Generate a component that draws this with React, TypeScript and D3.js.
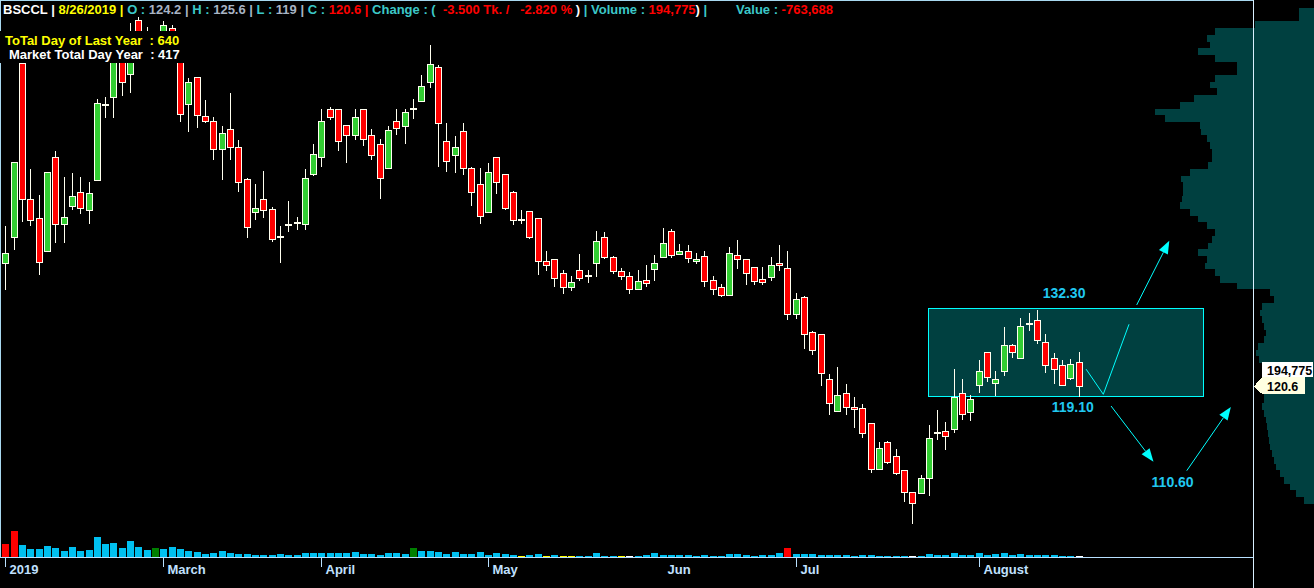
import React from 'react';
import * as d3 from 'd3';

// ---- Daily OHLC (BSCCL, Feb–Aug 2019) ----
const opens = [139.0,142.8,168.8,148.5,145.6,140.8,154.7,144.7,147.4,149.5,146.8,151.4,162.7,163.7,169.5,167.2,175.2,172.2,170.0,171.5,174.0,171.5,162.7,166.7,160.9,160.1,156.0,159.0,156.3,151.5,146.5,148.5,147.0,143.0,144.7,145.0,144.7,152.2,154.8,161.9,161.9,159.5,158.0,161.9,158.0,156.7,153.2,160.2,159.4,162.1,163.2,165.9,168.2,157.1,155.1,158.6,153.2,150.8,146.6,154.7,152.2,149.6,145.5,146.7,145.6,139.3,139.5,137.4,135.3,137.9,137.1,138.9,142.8,139.9,137.8,137.0,135.1,136.4,138.0,139.9,143.7,140.3,140.7,139.2,140.0,136.4,135.3,134.2,140.1,139.5,138.3,136.5,136.8,139.0,138.2,131.4,133.9,128.7,128.3,121.7,116.8,119.5,117.4,117.3,115.0,108.2,112.3,110.2,108.0,104.7,104.6,106.8,113.7,113.8,114.1,119.6,116.7,120.8,125.6,121.1,122.9,126.7,124.7,130.0,130.4,127.1,124.7,123.7,121.8,124.2];
const highs = [144.5,154.0,168.8,153.0,149.1,152.5,155.7,151.8,152.4,151.8,151.0,163.4,163.7,170.0,170.7,174.8,175.7,174.2,173.3,175.1,174.5,172.2,166.6,166.7,163.3,160.7,159.4,164.3,157.3,151.6,150.7,152.7,147.3,144.5,148.2,145.8,153.0,156.7,161.9,162.2,161.9,159.5,161.9,162.0,159.0,157.5,159.4,161.9,161.9,163.4,167.0,171.5,168.5,159.8,157.9,159.8,153.3,153.1,153.9,154.8,152.2,149.7,146.9,146.7,145.6,140.7,139.6,137.9,137.0,140.3,137.9,143.7,143.5,140.0,138.2,137.6,137.9,138.7,140.1,144.1,144.0,141.8,141.6,140.5,140.7,137.0,135.8,141.3,142.4,139.5,138.3,138.3,139.8,141.6,140.7,134.4,134.0,128.8,128.3,122.4,123.4,120.9,118.9,117.9,115.1,112.2,112.4,111.2,108.1,104.8,107.3,114.8,117.0,115.2,123.1,121.7,119.3,124.5,125.7,122.9,129.4,126.9,130.8,131.5,131.9,128.3,125.5,124.5,124.6,125.6];
const lows = [134.9,140.9,145.1,144.4,137.2,140.6,142.0,142.0,146.8,146.3,144.8,151.2,160.6,160.6,163.9,164.3,170.4,169.5,169.2,170.7,170.0,160.0,158.5,159.1,159.8,154.3,151.3,154.3,149.5,142.7,145.4,145.7,142.1,139.0,143.5,143.9,143.9,151.9,153.3,160.3,155.7,153.9,157.3,156.4,154.3,148.5,153.1,158.1,156.7,160.4,163.1,165.1,153.3,152.6,152.4,152.1,147.5,144.7,146.5,149.2,146.8,144.6,144.8,142.6,137.2,137.8,135.4,134.3,134.8,136.2,136.0,136.8,139.5,137.3,136.4,134.3,135.0,135.3,136.3,139.8,139.7,140.2,139.0,138.8,135.4,134.2,133.9,134.1,138.0,135.7,135.7,135.7,136.3,137.8,130.4,130.6,126.1,125.2,120.6,116.3,116.7,116.2,114.3,112.9,107.6,108.1,108.9,107.3,103.3,100.0,104.5,104.1,112.5,111.0,113.6,115.5,115.4,119.6,121.2,119.1,122.1,124.8,124.6,128.8,126.8,122.6,120.9,120.6,121.5,119.0];
const closes = [140.5,154.0,148.5,145.3,139.1,152.5,144.8,145.8,149.0,147.1,149.4,162.8,162.7,169.2,166.0,172.2,171.5,170.7,172.5,174.5,171.5,161.2,166.0,161.0,160.1,156.0,158.4,156.3,151.0,144.3,147.1,146.8,142.5,143.0,144.7,145.0,151.7,155.2,160.1,160.7,157.2,158.0,160.8,157.4,155.0,151.7,158.8,159.1,161.5,162.1,165.3,168.6,159.8,154.2,156.2,153.2,149.6,145.9,152.5,151.1,147.1,145.3,145.5,142.9,139.3,138.7,136.7,135.3,136.1,136.7,137.1,142.3,139.8,137.7,137.0,135.1,136.2,135.9,139.0,142.0,140.1,140.8,139.7,139.5,136.3,135.0,134.2,140.5,139.5,137.4,136.3,136.1,138.7,138.7,131.4,133.5,128.4,125.9,122.6,118.0,119.2,117.4,117.1,113.5,108.2,111.3,109.2,107.6,104.7,103.2,106.8,112.9,113.7,113.1,119.0,116.4,118.7,122.8,122.0,121.6,126.7,125.6,129.5,130.0,127.4,123.7,123.1,120.8,123.8,120.6];
// volume in thousand shares
const volumesK = [2500,5000,2300,1540,1540,2110,1730,1150,1920,1150,1340,3840,2500,2690,1730,3070,1920,1340,1730,1540,1920,1540,1150,960,580,770,1150,770,580,580,380,380,380,580,380,380,770,770,770,770,770,770,960,580,580,380,770,770,580,1730,1150,1150,960,580,960,580,580,960,380,770,580,380,190,380,580,190,380,190,190,190,190,770,190,190,190,190,190,380,770,380,380,380,380,190,380,190,190,580,580,380,190,380,380,770,1730,580,580,580,380,380,380,380,190,380,380,190,190,190,190,190,190,580,380,380,770,380,380,770,380,580,770,380,580,380,380,380,380,190,190,194.775];
const redVolIdx = [0, 1, 94];
const greenVolIdx = [18, 49];
const yellowVolIdx = [62, 65, 67, 68, 74];
const whiteVolIdx = [75, 109, 129];

// month labels (candle index of first session)
const monthLabels = ['2019', 'March', 'April', 'May', 'Jun', 'Jul', 'August'];
const monthIdx = [0, 19, 38, 58, 79, 95, 117];
const monthTickShown = [true, true, true, true, false, true, true];

// volume-at-price profile: bins of 1 Tk from 177 down
const profileTop = 177;
const profileStep = 1;
const profileVol = [15,15,59,99,107,104,116,99,77,77,99,104,97,120,134,159,149,114,113,107,104,102,102,106,124,133,131,131,132,134,124,116,107,99,102,106,116,107,109,99,94,77,44,40,52,54,52,50,48,50,56,58,55,52,50,50,50,50,50,52,50,48,47,46,45,44,42,40,38,34,30,24,18,10];

// annotation (index, price)
const zoneTop = 132.3;
const zoneBottom = 119.1;
const target = 110.6;
const zoneFromIdx = 110.9;
const zoneToIdx = 144.0;
const vPath: [number, number][] = [[129.9, 123.1], [131.97, 119.35], [135.06, 129.8]];
const arrows: [number, number][][] = [
  [[135.98, 132.68], [139.9, 142.27]],
  [[132.9, 117.6], [138.0, 109.3]],
  [[142.0, 107.95], [147.3, 117.45]],
];

const header: [string, string][] = [
  ['BSCCL | ', '#ffffff'], ['8/26/2019', '#ffff00'], [' | ', '#ffff00'],
  ['O : ', '#3cc8c8'], ['124.2', '#a8b4c4'], [' | ', '#a8b4c4'],
  ['H : ', '#3cc8c8'], ['125.6', '#a8b4c4'], [' | ', '#a8b4c4'],
  ['L : ', '#3cc8c8'], ['119', '#a8b4c4'], [' | ', '#a8b4c4'],
  ['C : ', '#3cc8c8'], ['120.6', '#ff0000'], [' | ', '#ff0000'],
  ['Change : (  ', '#3cc8c8'], ['-3.500 Tk. /   -2.820 % ', '#ff0000'], [')', '#ffffff'],
  [' | Volume : ', '#3cc8c8'], ['194,775', '#ff0000'], [')', '#ffffff'], [' |', '#3cc8c8'],
  ['        Value : ', '#3cc8c8'], ['-763,688', '#ff0000'],
];

const FONT = '"Liberation Sans", Arial, sans-serif';

function arrowHead(x1: number, y1: number, x2: number, y2: number, len = 13, half = 5) {
  const dx = x2 - x1, dy = y2 - y1;
  const d = Math.hypot(dx, dy);
  const ux = dx / d, uy = dy / d;
  const bx = x2 - ux * len, by = y2 - uy * len;
  return {
    path: `M${x2},${y2}L${bx - uy * half},${by + ux * half}L${bx + uy * half},${by - ux * half}Z`,
    bx, by,
  };
}

export default function App() {
  const W = 1314, H = 588;
  const plotRight = 1253;
  const axisY = 557;
  const x = d3.scaleLinear().domain([0, opens.length - 1]).range([5.3, 1078.6]);
  const y = d3.scaleLinear().domain([100, 170]).range([523.94, 54.94]);
  const yVol = d3.scaleLinear().domain([0, 5000]).range([axisY, axisY - 26]);
  const xProf = d3.scaleLinear().domain([0, 160]).range([W, W - 160]);

  const volColor = (i: number) => {
    if (redVolIdx.includes(i)) return '#ff0000';
    if (greenVolIdx.includes(i)) return '#008000';
    if (yellowVolIdx.includes(i)) return '#ffff00';
    if (whiteVolIdx.includes(i)) return '#ffffff';
    return '#00c0f0';
  };

  const cream = '#fffff0';
  const cyan = '#00ffff';
  const labelBlue = '#20c8f0';
  const lineGen = d3.line<[number, number]>().x(d => x(d[0])).y(d => y(d[1]));
  const last = closes.length - 1;
  const yLast = y(closes[last]);

  return (
    <div style={{ position: 'absolute', left: 0, top: 0, width: W, height: H, background: '#000' }}>
      <svg width={W} height={H} style={{ display: 'block' }} fontFamily={FONT}>
        <rect x={0} y={0} width={W} height={H} fill="#000" />

        {/* volume-at-price profile */}
        <g shapeRendering="crispEdges">
          {profileVol.map((v, k) => {
            const y0 = y(profileTop - k * profileStep);
            const y1 = y(profileTop - (k + 1) * profileStep);
            return <rect key={k} x={xProf(v)} y={y0} width={W - xProf(v)} height={y1 - y0} fill="#004040" />;
          })}
        </g>

        {/* frame */}
        <g shapeRendering="crispEdges">
          <line x1={0} x2={plotRight} y1={0.5} y2={0.5} stroke="#a8d8f0" />
          <line x1={0.5} x2={0.5} y1={0} y2={axisY} stroke="#a8d8f0" />
          <line x1={plotRight + 0.5} x2={plotRight + 0.5} y1={0} y2={H} stroke="#d8f0ff" />
        </g>

        {/* target zone */}
        <rect x={Math.round(x(zoneFromIdx)) + 0.5} y={Math.round(y(zoneTop)) + 0.5}
          width={Math.round(x(zoneToIdx) - x(zoneFromIdx))} height={Math.round(y(zoneBottom) - y(zoneTop))}
          fill="#004040" stroke={cyan} strokeWidth={1} shapeRendering="crispEdges" />
        <path d={lineGen(vPath) || ''} fill="none" stroke={cyan} strokeWidth={1} />

        {/* candles */}
        <g>
          {opens.map((o, i) => {
            const c = closes[i];
            const cx = Math.round(x(i)) + 0.5;
            const yH = y(highs[i]), yL = y(lows[i]);
            const yO = Math.round(y(o)) + 0.5, yC = Math.round(y(c)) + 0.5;
            const top = Math.min(yO, yC), bot = Math.max(yO, yC);
            const doji = o === c;
            return (
              <g key={i} shapeRendering="crispEdges">
                <line x1={cx} x2={cx} y1={yH} y2={yL} stroke={cream} strokeWidth={1} />
                {doji ? (
                  <line x1={cx - 3.5} x2={cx + 3.5} y1={yO} y2={yO} stroke={cream} strokeWidth={2} />
                ) : (
                  <rect x={cx - 3} y={top} width={6} height={Math.max(1, bot - top)}
                    fill={c > o ? '#32cd32' : '#ff0000'} stroke={cream} strokeWidth={1} />
                )}
              </g>
            );
          })}
        </g>

        {/* volume bars */}
        <g shapeRendering="crispEdges">
          {volumesK.map((v, i) => {
            const yy = Math.round(yVol(v));
            return <rect key={i} x={Math.round(x(i)) - 3} y={yy} width={7} height={axisY - yy} fill={volColor(i)} />;
          })}
        </g>

        {/* time axis */}
        <g shapeRendering="crispEdges">
          <line x1={0} x2={plotRight} y1={axisY + 0.5} y2={axisY + 0.5} stroke="#b8e0ff" />
          {monthLabels.map((m, j) => {
            const tx = Math.round(x(monthIdx[j])) + 0.5;
            return (
              <g key={m}>
                {monthTickShown[j] && <line x1={tx} x2={tx} y1={axisY} y2={axisY + 10} stroke="#b8e0ff" />}
                <text x={tx + 4} y={574} fill="#c0e0ff" fontSize={13} fontWeight="bold">{m}</text>
              </g>
            );
          })}
        </g>

        {/* arrows */}
        <g>
          {arrows.map((a, k) => {
            const x1 = x(a[0][0]), y1 = y(a[0][1]), x2 = x(a[1][0]), y2 = y(a[1][1]);
            const h = arrowHead(x1, y1, x2, y2);
            return (
              <g key={k}>
                <line x1={x1} y1={y1} x2={h.bx} y2={h.by} stroke={cyan} strokeWidth={1} />
                <path d={h.path} fill={cyan} />
              </g>
            );
          })}
        </g>

        {/* zone labels */}
        <g fill={labelBlue} fontSize={14} fontWeight="bold" textAnchor="middle">
          <text x={x(127.25)} y={y(zoneTop) - 10}>{zoneTop.toFixed(2)}</text>
          <text x={x(128.3)} y={y(zoneBottom) + 16}>{zoneBottom.toFixed(2)}</text>
          <text x={x(140.3)} y={y(target) + 34}>{target.toFixed(2)}</text>
        </g>

        {/* header */}
        <text x={3} y={14} fontSize={13} fontWeight="bold" style={{ whiteSpace: 'pre' }}>
          {header.map(([t, col], k) => <tspan key={k} fill={col}>{t}</tspan>)}
        </text>

        {/* info box */}
        <rect x={0} y={31} width={185} height={32} fill="#000" />
        <text x={5} y={45} fontSize={13} fontWeight="bold" fill="#ffff00" style={{ whiteSpace: 'pre' }}>{'ToTal Day of Last Year  : 640'}</text>
        <text x={9} y={59} fontSize={13} fontWeight="bold" fill="#ffffff" style={{ whiteSpace: 'pre' }}>{'Market Total Day Year  : 417'}</text>

        {/* last value labels */}
        <g shapeRendering="crispEdges">
          <rect x={plotRight + 9} y={yLast - 24} width={51} height={15} fill="#ffffff" />
          <path d={`M${plotRight + 1},${yLast + 0.5}L${plotRight + 9},${yLast - 9}L${plotRight + 52},${yLast - 9}L${plotRight + 52},${yLast + 8}L${plotRight + 9},${yLast + 8}Z`} fill="#ffffe1" />
        </g>
        <text x={plotRight + 14} y={yLast - 11} fontSize={12.5} fontWeight="bold" fill="#000">
          {d3.format(',')(Math.round(volumesK[last] * 1000))}
        </text>
        <text x={plotRight + 14} y={yLast + 5} fontSize={12.5} fontWeight="bold" fill="#000">
          {closes[last].toFixed(1)}
        </text>
      </svg>
    </div>
  );
}
